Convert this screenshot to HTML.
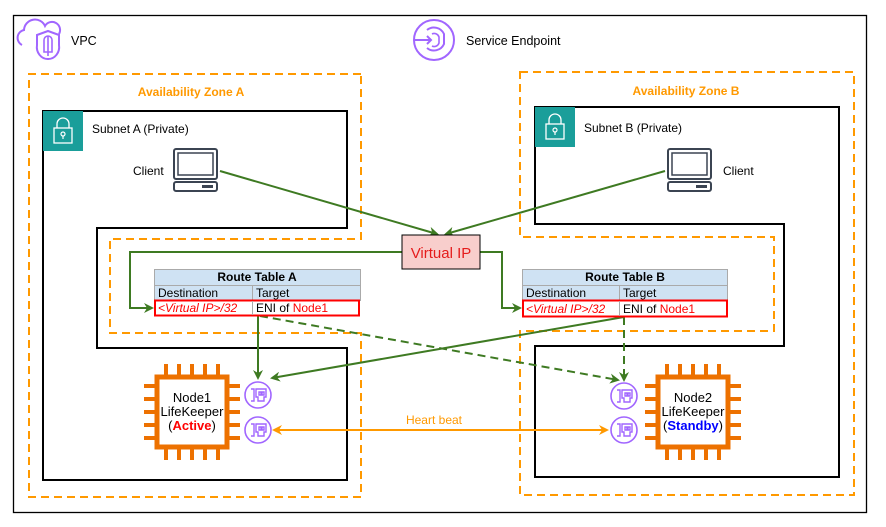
<!DOCTYPE html>
<html><head><meta charset="utf-8"><style>
html,body{margin:0;padding:0;background:#fff;}
svg{display:block;font-family:"Liberation Sans",Arial,sans-serif;}
</style></head><body>
<svg width="886" height="527" viewBox="0 0 886 527" xmlns="http://www.w3.org/2000/svg">
<defs>
<marker id="ag" markerWidth="10" markerHeight="10" refX="8" refY="5" orient="auto" markerUnits="userSpaceOnUse"><path d="M0,0 L10,5 L0,10 L3,5 z" fill="#3e7a22"/></marker>
<marker id="ao" markerWidth="10" markerHeight="10" refX="8" refY="5" orient="auto-start-reverse" markerUnits="userSpaceOnUse"><path d="M0,0 L10,5 L0,10 L3,5 z" fill="#f90"/></marker>
<g id="chip">
<rect x="-35" y="-35" width="70" height="70" fill="#fff" stroke="#ED7100" stroke-width="5"/>
<g stroke="#ED7100" stroke-width="4">
<path d="M-26,-37v-11M-13,-37v-11M0,-37v-11M13,-37v-11M26,-37v-11"/>
<path d="M-26,37v11M-13,37v11M0,37v11M13,37v11M26,37v11"/>
<path d="M-37,-26h-11M-37,-13h-11M-37,0h-11M-37,13h-11M-37,26h-11"/>
<path d="M37,-26h11M37,-13h11M37,0h11M37,13h11M37,26h11"/>
</g></g>
<g id="eni">
<circle r="13" fill="#fff" stroke="#a166ff" stroke-width="1.6"/>
<path d="M-7,-6h3v12h-3M-2,-6h10v8h-2v4h-6v-4h-2z M1,-3h2v3h-2zM4,-3h2v3h-2z" fill="none" stroke="#a166ff" stroke-width="1.4"/>
</g>
<g id="mon">
<rect x="0" y="0" width="43" height="30" rx="2" fill="none" stroke="#3b4452" stroke-width="2"/>
<rect x="4" y="4" width="35" height="22" fill="none" stroke="#3b4452" stroke-width="1.5"/>
<rect x="0" y="33" width="43" height="9" rx="2" fill="none" stroke="#3b4452" stroke-width="2"/>
<rect x="28" y="36" width="11" height="3" fill="#3b4452"/>
</g>
<g id="lock">
<rect width="40" height="40" fill="#1a9e9a"/>
<rect x="11" y="17" width="18" height="15" fill="none" stroke="#fff" stroke-width="1.3"/>
<path d="M14,17v-4a6,6 0 0 1 12,0v4" fill="none" stroke="#fff" stroke-width="1.3"/>
<circle cx="20" cy="23" r="2" fill="none" stroke="#fff" stroke-width="1.2"/><path d="M20,25v3" stroke="#fff" stroke-width="1.2"/>
</g>
</defs>

<rect x="13.5" y="15.5" width="853" height="497" fill="none" stroke="#000" stroke-width="1.3"/>

<!-- VPC icon -->
<path d="M22,45 a8,8 0 0 1 2,-15 a11,11 0 0 1 21,-4 a8,8 0 0 1 14,8" fill="none" stroke="#a166ff" stroke-width="2"/>
<path d="M37,35 l11,-4 l11,4 v10 a11,12 0 0 1 -11,14 a11,12 0 0 1 -11,-14z" fill="#fff" stroke="#a166ff" stroke-width="2"/>
<path d="M44,40 a4,4 0 0 1 8,0 v12 h-8z M48,36v20" fill="none" stroke="#a166ff" stroke-width="1.6"/>
<text x="71" y="45" font-size="12.5">VPC</text>
<!-- Service endpoint icon -->
<circle cx="434" cy="40" r="20" fill="none" stroke="#a166ff" stroke-width="2"/>
<path d="M427,30 a11,11 0 0 1 17,4 v10 a11,11 0 0 1 -17,4" fill="none" stroke="#a166ff" stroke-width="2"/>
<path d="M432,34 a5,5 0 0 1 7,3 v6 a5,5 0 0 1 -7,3" fill="none" stroke="#a166ff" stroke-width="1.6"/>
<path d="M415,40h16m-4,-4l4,4l-4,4" fill="none" stroke="#a166ff" stroke-width="2"/>
<text x="466" y="45" font-size="12.5">Service Endpoint</text>

<!-- AZ dashed -->
<g fill="none" stroke="#f90" stroke-width="2" stroke-dasharray="8,5">
<path d="M361,74 H29 V497 H361 V333 H110 V239 H361 Z"/>
<path d="M520,72 H854 V495 H520 V331 H774 V237 H520 Z"/>
</g>
<text x="191" y="96" font-size="12" font-weight="bold" fill="#f90" text-anchor="middle">Availability Zone A</text>
<text x="686" y="95" font-size="12" font-weight="bold" fill="#f90" text-anchor="middle">Availability Zone B</text>

<!-- subnets -->
<g fill="none" stroke="#000" stroke-width="2">
<path d="M43,111 H347 V228 H97 V348 H347 V480 H43 Z"/>
<path d="M535,107 H839 V477 H535 V346 H784 V224 H535 Z"/>
</g>
<use href="#lock" x="43" y="111"/>
<use href="#lock" x="535" y="107"/>
<text x="92" y="133" font-size="12">Subnet A (Private)</text>
<text x="584" y="132" font-size="12">Subnet B (Private)</text>

<use href="#mon" x="174" y="149"/>
<use href="#mon" x="668" y="149"/>
<text x="133" y="175" font-size="12">Client</text>
<text x="723" y="175" font-size="12">Client</text>

<!-- green arrows -->
<g fill="none" stroke="#3e7a22" stroke-width="2">
<path d="M220,171 L437,234" marker-end="url(#ag)"/>
<path d="M665,171 L446,234" marker-end="url(#ag)"/>
<path d="M402,252 H130 V308 H152" marker-end="url(#ag)"/>
<path d="M480,252 H502 V308 H520" marker-end="url(#ag)"/>
<path d="M258,316 V378" marker-end="url(#ag)"/>
<path d="M624,317 L272,378" marker-end="url(#ag)"/>
<path d="M260,316 L618,380" stroke-dasharray="8,5" marker-end="url(#ag)"/>
<path d="M624,317 V380" stroke-dasharray="8,5" marker-end="url(#ag)"/>
</g>

<rect x="402" y="235" width="78" height="34" fill="#f8cecc" stroke="#000" stroke-width="1"/>
<text x="441" y="258" font-size="15" fill="#e51c1c" text-anchor="middle">Virtual IP</text>

<!-- Route tables -->
<g font-size="12">
<rect x="154.5" y="269.5" width="206" height="31" fill="#cfe2f3" stroke="#aaa"/>
<line x1="154" y1="285.5" x2="360" y2="285.5" stroke="#aaa"/>
<line x1="252.5" y1="285" x2="252.5" y2="316" stroke="#aaa"/>
<rect x="155" y="300.5" width="204" height="15" fill="#fff" stroke="#f00" stroke-width="2"/>
<line x1="252.5" y1="301" x2="252.5" y2="315" stroke="#aaa"/>
<text x="257" y="281" font-weight="bold" text-anchor="middle">Route Table A</text>
<text x="158" y="297">Destination</text><text x="256" y="297">Target</text>
<text x="158" y="312" fill="#f00" font-style="italic">&lt;Virtual IP&gt;/32</text>
<text x="256" y="312">ENI of <tspan fill="#f00">Node1</tspan></text>

<rect x="522.5" y="269.5" width="205" height="31" fill="#cfe2f3" stroke="#aaa"/>
<line x1="522" y1="285.5" x2="727" y2="285.5" stroke="#aaa"/>
<line x1="619.5" y1="285" x2="619.5" y2="316" stroke="#aaa"/>
<rect x="523" y="300.5" width="204" height="16" fill="#fff" stroke="#f00" stroke-width="2"/>
<line x1="619.5" y1="301" x2="619.5" y2="316" stroke="#aaa"/>
<text x="625" y="281" font-weight="bold" text-anchor="middle">Route Table B</text>
<text x="526" y="297">Destination</text><text x="623" y="297">Target</text>
<text x="526" y="313" fill="#f00" font-style="italic">&lt;Virtual IP&gt;/32</text>
<text x="623" y="313">ENI of <tspan fill="#f00">Node1</tspan></text>
</g>

<!-- heartbeat -->
<path d="M274,430 H607" fill="none" stroke="#f90" stroke-width="2" marker-start="url(#ao)" marker-end="url(#ao)"/>
<text x="434" y="424" font-size="12" fill="#f90" text-anchor="middle">Heart beat</text>

<!-- nodes -->
<use href="#chip" x="192" y="412"/>
<use href="#chip" x="693" y="412"/>
<g font-size="13" text-anchor="middle">
<text x="192" y="402">Node1</text><text x="192" y="416">LifeKeeper</text>
<text x="192" y="430">(<tspan fill="#f00" font-weight="bold">Active</tspan>)</text>
<text x="693" y="402">Node2</text><text x="693" y="416">LifeKeeper</text>
<text x="693" y="430">(<tspan fill="#00f" font-weight="bold">Standby</tspan>)</text>
</g>
<use href="#eni" x="258" y="395"/>
<use href="#eni" x="258" y="430"/>
<use href="#eni" x="624" y="396"/>
<use href="#eni" x="624" y="430"/>
</svg>
</body></html>
